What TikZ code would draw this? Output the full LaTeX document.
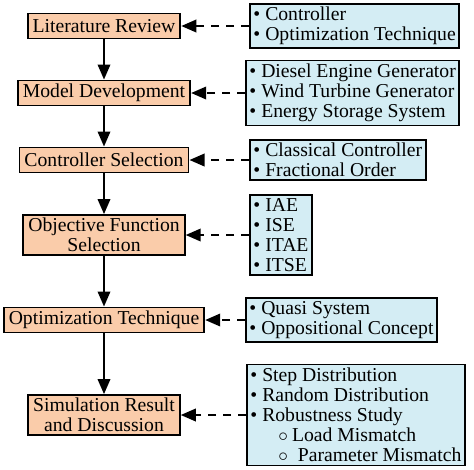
\documentclass[tikz,border=0pt]{standalone}
\usepackage{fontspec}
\setmainfont{Liberation Serif}
\usepackage{xcolor}
\usepackage{tikz}
\usetikzlibrary{arrows.meta,positioning}
\definecolor{peach}{RGB}{250,204,170}
\definecolor{paleblue}{RGB}{212,237,244}
\tikzset{
  stage/.style={
    draw,
    line width=1.1pt,
    align=center,
    inner xsep=1mm,
    inner ysep=0.6mm,
    minimum height=5mm,
    fill=peach,
    font=\fontsize{11.2pt}{11.4pt}\selectfont
  },
  detail/.style={
    draw,
    line width=1.1pt,
    anchor=west,
    align=left,
    inner xsep=0.7mm,
    inner ysep=0.7mm,
    fill=paleblue,
    font=\fontsize{11.2pt}{11.4pt}\selectfont
  },
  flow/.style={draw, -{Triangle[length=3mm,width=2.5mm]}, line width=1.1pt},
  feed/.style={draw, -{Triangle[length=3mm,width=2.5mm]}, line width=1.1pt,
    dash pattern=on 1.6mm off 1.4mm}
}

\begin{document}
\begin{tikzpicture}[x=0.2mm,y=-0.2mm]
  \useasboundingbox (0,0) rectangle (474,469);

  \node[stage] (review) at (104,26) {Literature Review};
  \node[stage] (model) at (104,93) {Model Development};
  \node[stage] (ctrl) at (104,160) {Controller Selection};
  \node[stage] (objective) at (104,235) {Objective Function\\Selection};
  \node[stage] (optim) at (104,320) {Optimization Technique};
  \node[stage] (sim) at (104,415) {Simulation Result\\and Discussion};

  \node[detail] (reviewlist) at (249,26) {\textbullet~Controller\\
    \textbullet~Optimization Technique};
  \node[detail] (modellist) at (245,93) {\textbullet~Diesel Engine Generator\\
    \textbullet~Wind Turbine Generator\\
    \textbullet~Energy Storage System};
  \node[detail] (ctrllist) at (249,160) {\textbullet~Classical Controller\\
    \textbullet~Fractional Order};
  \node[detail] (objlist) at (249,235) {\textbullet~IAE\\
    \textbullet~ISE\\
    \textbullet~ITAE\\
    \textbullet~ITSE};
  \node[detail] (optimlist) at (245,320) {\textbullet~Quasi System\\
    \textbullet~Oppositional Concept};
  \node[detail] (simlist) at (246,415) {\textbullet~Step Distribution\\
    \textbullet~Random Distribution\\
    \textbullet~Robustness Study\\
    \hspace*{5.6mm}$\circ$\hspace{0.8mm}Load Mismatch\\
    \hspace*{5.6mm}$\circ$~~Parameter Mismatch};

  \path (review) edge[flow] (model)
        (model) edge[flow] (ctrl)
        (ctrl) edge[flow] (objective)
        (objective) edge[flow] (optim)
        (optim) edge[flow] (sim);

  \path (reviewlist) edge[feed] (review)
        (modellist) edge[feed] (model)
        (ctrllist) edge[feed] (ctrl)
        (objlist) edge[feed] (objective)
        (optimlist) edge[feed] (optim)
        (simlist) edge[feed] (sim);
\end{tikzpicture}
\end{document}
